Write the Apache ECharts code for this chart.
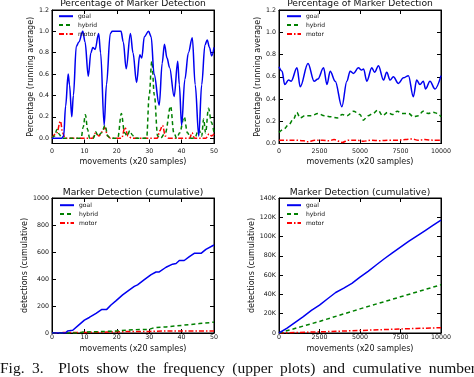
<!DOCTYPE html>
<html><head><meta charset="utf-8">
<script src="https://cdn.jsdelivr.net/npm/echarts@6/dist/echarts.min.js"></script>
<style>html,body{margin:0;padding:0;background:#fff}#c{width:474px;height:377px}</style>
</head><body><div id="c"></div>
<script>
// ---------- DATA ----------
const seriesNames = ['goal', 'hybrid', 'motor'];
const titleRate = 'Percentage of Marker Detection';
const titleCum = 'Marker Detection (cumulative)';
const xName = 'movements (x20 samples)';
const yNameRate = 'Percentage (running average)';
const yNameCum = 'detections (cumulative)';
const rateTicks = [0, 0.2, 0.4, 0.6, 0.8, 1.0, 1.2];

// top-left: running average, x in 0..50
const goalRateShort = [[0,0],[1,0],[2,0],[3,0],[3.6,0.02],[4.2,0.3],[5.0,0.60],[5.4,0.5],[6.1,0.2],[6.6,0.4],[7.5,0.86],[8.3,0.9],[9.5,1.0],[10.2,0.9],[11.2,0.58],[12.0,0.8],[12.6,0.85],[13.3,0.83],[14.4,0.98],[15.0,0.8],[16.1,0.12],[16.8,0.5],[18,0.98],[18.6,1.0],[21.3,1.0],[22.0,0.9],[22.9,0.65],[24.2,0.98],[25.0,0.8],[26.1,0.52],[27.1,0.78],[27.7,0.75],[28.5,0.95],[29.8,1.0],[30.6,0.95],[31.5,0.6],[33.1,0.31],[34.0,0.7],[34.7,0.88],[35.5,0.75],[36.3,0.66],[37.7,0.39],[38.8,0.72],[39.3,0.5],[40.0,0.12],[41.0,0.55],[42.1,0.8],[43.3,0.94],[44.2,0.5],[45.3,0.02],[46.2,0.5],[47.2,0.87],[47.9,0.92],[48.6,0.85],[49.3,0.77],[50,0.85]];
const hybridRateShort = [[0,0],[0.8,0.02],[1.5,0.08],[2.2,0.04],[3,0],[9,0],[9.6,0.1],[10.3,0.22],[11,0.08],[11.6,0],[12.8,0],[13.5,0.06],[14.2,0.02],[15.3,0.05],[16.4,0.12],[17.2,0.02],[18,0],[20.3,0],[21.4,0.23],[22.4,0.05],[23.2,0.02],[24.0,0.07],[24.8,0.03],[25.5,0],[29.2,0],[30.0,0.4],[30.8,0.72],[31.6,0.4],[32.6,0.02],[33.5,0],[35.0,0.05],[36.6,0.3],[37.6,0.05],[38.5,0],[39.4,0.05],[40.8,0.2],[41.8,0.05],[42.8,0],[44.0,0],[45.3,0.08],[46.2,0.02],[46.8,0.18],[47.4,0.05],[48.3,0.28],[49.2,0.15],[50,0.05]];
const motorRateShort = [[0,0],[1.5,0.05],[2.6,0.16],[3.3,0.05],[4,0],[12.5,0],[13.5,0.05],[14.5,0.02],[15.5,0.06],[16.3,0.1],[17.2,0.02],[18,0],[21.5,0],[22.5,0.1],[23.5,0.02],[24.5,0],[32.5,0],[33.3,0.07],[34.1,0.12],[35,0.02],[36,0],[42.5,0],[43.2,0.05],[44,0],[47.5,0],[48.5,0.04],[49.3,0.02],[50,0.04]];

// top-right: running average, x in 0..10000
const goalRateLong = [[0,0.69],[190,0.65],[350,0.53],[590,0.57],[750,0.56],[1110,0.68],[1310,0.51],[1790,0.72],[2170,0.56],[2400,0.58],[2750,0.68],[2960,0.53],[3160,0.65],[3470,0.56],[3880,0.33],[4190,0.56],[4390,0.65],[4600,0.63],[4900,0.68],[5100,0.66],[5220,0.67],[5420,0.56],[5730,0.68],[5900,0.64],[6140,0.70],[6450,0.57],[6650,0.64],[6860,0.57],[7060,0.60],[7370,0.54],[7680,0.59],[7990,0.61],[8290,0.42],[8500,0.57],[8700,0.53],[8910,0.56],[9050,0.49],[9320,0.56],[9630,0.49],[10000,0.61]];
const hybridRateLong = [[0,0.10],[300,0.13],[600,0.17],[900,0.22],[1100,0.28],[1300,0.23],[1600,0.25],[2000,0.25],[2400,0.27],[2800,0.25],[3200,0.24],[3600,0.23],[3900,0.26],[4200,0.25],[4600,0.29],[5000,0.26],[5200,0.21],[5500,0.25],[5800,0.27],[6100,0.30],[6400,0.25],[6700,0.28],[7000,0.26],[7300,0.29],[7600,0.27],[8000,0.27],[8300,0.24],[8600,0.25],[8900,0.29],[9200,0.27],[9500,0.28],[9800,0.27],[10000,0.24]];
const motorRateLong = [[0,0.03],[500,0.03],[1000,0.03],[1500,0.025],[1800,0.015],[2200,0.03],[2700,0.03],[3100,0.025],[3400,0.035],[3900,0.01],[4300,0.03],[4800,0.03],[5200,0.02],[5700,0.03],[6200,0.025],[6800,0.03],[7300,0.03],[7800,0.035],[8200,0.04],[8600,0.03],[9000,0.035],[9500,0.03],[10000,0.03]];

// bottom-left: cumulative, x in 0..50
const goalCumShort = [[0,0],[4.2,0],[4.8,15],[6.4,20],[8.4,62],[10,95],[11.5,115],[13.6,145],[15.4,175],[16.9,175],[18.2,207],[19.8,240],[21.8,282],[23.9,320],[25.4,345],[26.4,357],[28.5,395],[30.6,432],[32.1,452],[33.1,452],[35.2,487],[37.2,510],[38.3,515],[39.3,537],[40.8,537],[42.4,565],[43.9,590],[46,590],[47.5,620],[50,652]];
const hybridCumShort = [[0,0],[8.5,0],[9.5,7],[14.6,10],[19.8,15],[22.8,20],[25.9,25],[30,27],[31.6,40],[35.2,45],[40.3,57],[45.5,70],[50,80]];
const motorCumShort = [[0,0],[2,0],[3,3],[14,5],[17,7],[22,10],[23,11],[30,12],[34,14],[40,14],[50,15]];

// bottom-right: cumulative, x in 0..10000
const goalCumLong = [[0,0],[500,5000],[1000,11000],[1500,17000],[2000,23500],[2500,29000],[3000,35500],[3500,42000],[4000,46500],[4500,51500],[5000,58000],[5500,64000],[6000,70500],[6500,77000],[7000,83000],[7500,89000],[8000,95000],[8500,100500],[9000,106000],[9500,111500],[10000,117000]];
const hybridCumLong = [[0,0],[2500,12000],[5000,25000],[7500,37500],[10000,50000]];
const motorCumLong = [[0,0],[2500,1200],[5000,2600],[7500,4200],[10000,5500]];

const captionWords = ['Fig.', '3.', 'Plots', 'show', 'the', 'frequency', '(upper', 'plots)', 'and', 'cumulative', 'number'];

// ---------- STYLE / LAYOUT ----------
const FONT = 'DejaVu Sans', TXT = '#111';
const COLORS = {goal: '#0000f0', hybrid: '#008000', motor: '#ff0000'};
const DASH = {goal: 'solid', hybrid: [4, 3], motor: [5, 2, 1.5, 2]};
const grids = [
  {left: 52, top: 10, width: 162, height: 133.5},
  {left: 279, top: 10, width: 162, height: 133.5},
  {left: 52, top: 198, width: 162, height: 135},
  {left: 279, top: 198, width: 162, height: 135}
];
const lblFont = {fontFamily: FONT, fontSize: 6.3, color: TXT};
const nameFont = {fontFamily: FONT, fontSize: 8, color: TXT};
const axLine = {show: true, onZero: false, lineStyle: {color: '#000', width: 1}};

const xAxes = [], yAxes = [];
function addX(gi, max, interval, margin, nameGap) {
  const tick = {show: true, inside: true, length: 4, lineStyle: {color: '#000'}};
  xAxes.push({type: 'value', gridIndex: gi, min: 0, max, interval, position: 'bottom',
    axisLine: axLine, axisTick: tick, splitLine: {show: false},
    axisLabel: Object.assign({margin, showMinLabel: true, showMaxLabel: true, formatter: v => String(v)}, lblFont),
    name: xName, nameLocation: 'middle', nameGap, nameTextStyle: nameFont});
  xAxes.push({type: 'value', gridIndex: gi, min: 0, max, interval, position: 'top',
    axisLine: axLine, axisTick: tick, splitLine: {show: false}, axisLabel: {show: false}});
}
function addY(gi, cfg) {
  const tick = Object.assign({show: true, inside: true, length: 4, lineStyle: {color: '#000'}}, cfg.tickExtra || {});
  const main = {type: 'value', gridIndex: gi, min: cfg.min, max: cfg.max, position: 'left',
    axisLine: axLine, axisTick: tick, splitLine: {show: false},
    axisLabel: Object.assign({margin: 3, showMinLabel: true, showMaxLabel: true, formatter: cfg.fmt}, lblFont, cfg.labelExtra || {}),
    name: cfg.name, nameLocation: 'middle', nameGap: cfg.nameGap, nameTextStyle: nameFont};
  const side = {type: 'value', gridIndex: gi, min: cfg.min, max: cfg.max, position: 'right',
    axisLine: axLine, axisTick: tick, splitLine: {show: false}, axisLabel: {show: false}};
  if (cfg.interval) { main.interval = cfg.interval; side.interval = cfg.interval; }
  yAxes.push(main, side);
}
const fmt1 = v => v.toFixed(1);
addX(0, 50, 10, 4.5, 14.5);
addY(0, {min: -0.05, max: 1.2, fmt: fmt1, name: yNameRate, nameGap: 16,
  tickExtra: {customValues: rateTicks}, labelExtra: {customValues: rateTicks}});
addX(1, 10000, 2500, 4.5, 14.5);
addY(1, {min: 0, max: 1.2, interval: 0.2, fmt: fmt1, name: yNameRate, nameGap: 16});
addX(2, 50, 10, 1, 11.5);
addY(2, {min: 0, max: 1000, interval: 200, fmt: v => String(v), name: yNameCum, nameGap: 22.5});
addX(3, 10000, 2500, 1, 11.5);
addY(3, {min: 0, max: 140000, interval: 20000, fmt: v => v === 0 ? '0' : (v / 1000) + 'K', name: yNameCum, nameGap: 22.5});

const plotData = [
  [goalRateShort, hybridRateShort, motorRateShort],
  [goalRateLong, hybridRateLong, motorRateLong],
  [goalCumShort, hybridCumShort, motorCumShort],
  [goalCumLong, hybridCumLong, motorCumLong]
];
const series = [];
plotData.forEach((set, gi) => {
  set.forEach((d, si) => {
    const n = seriesNames[si];
    series.push({type: 'line', name: n, data: d, xAxisIndex: gi * 2, yAxisIndex: gi * 2,
      symbol: 'none', smooth: gi < 2 ? 0.35 : false, smoothMonotone: 'x', clip: true,
      lineStyle: {color: COLORS[n], width: 1.5, type: DASH[n]}, itemStyle: {color: COLORS[n]}, z: 3 - si});
  });
});

const legendPos = [[58, 13], [286, 13], [59, 202], [286, 202]];
const legends = legendPos.map(p => ({data: seriesNames, orient: 'vertical', left: p[0], top: p[1],
  itemWidth: 14, itemHeight: 8, itemGap: 2.5, padding: 0, selectedMode: false,
  itemStyle: {color: 'rgba(0,0,0,0)', borderColor: 'rgba(0,0,0,0)', borderWidth: 0},
  textStyle: {fontFamily: FONT, fontSize: 6, color: TXT}}));

const titleFont = {fontFamily: FONT, fontSize: 9.2, fontWeight: 'normal', color: TXT};
const titles = [
  {text: titleRate, left: 133, top: 3.5},
  {text: titleRate, left: 360, top: 3.5},
  {text: titleCum, left: 133, top: 192.8},
  {text: titleCum, left: 360, top: 192.8}
].map(t => Object.assign(t, {textAlign: 'center', textVerticalAlign: 'middle', padding: 0, textStyle: titleFont}));

// caption: justified across the width
const capFont = '15.5px "Liberation Serif"';
const ctx = document.createElement('canvas').getContext('2d');
ctx.font = capFont;
const widths = captionWords.map(w => ctx.measureText(w).width);
const totalW = widths.reduce((a, b) => a + b, 0);
const gapWeights = captionWords.slice(1).map((w, i) => i === 1 ? 2 : 1);
const wsum = gapWeights.reduce((a, b) => a + b, 0);
const unit = (476 - totalW) / wsum;
let cx = 0;
const capTexts = captionWords.map((w, i) => {
  const el = {type: 'text', x: cx, y: 368.5, style: {text: w, font: capFont, fill: '#111', verticalAlign: 'middle'}};
  cx += widths[i] + (i < gapWeights.length ? gapWeights[i] * unit : 0);
  return el;
});

const chart = echarts.init(document.getElementById('c'), null, {renderer: 'canvas'});
chart.setOption({
  animation: false,
  backgroundColor: '#fff',
  title: titles,
  legend: legends,
  grid: grids.map(g => Object.assign({show: true, borderColor: '#000', borderWidth: 1, backgroundColor: 'transparent'}, g)),
  xAxis: xAxes,
  yAxis: yAxes,
  series,
  graphic: capTexts
});
</script></body></html>
